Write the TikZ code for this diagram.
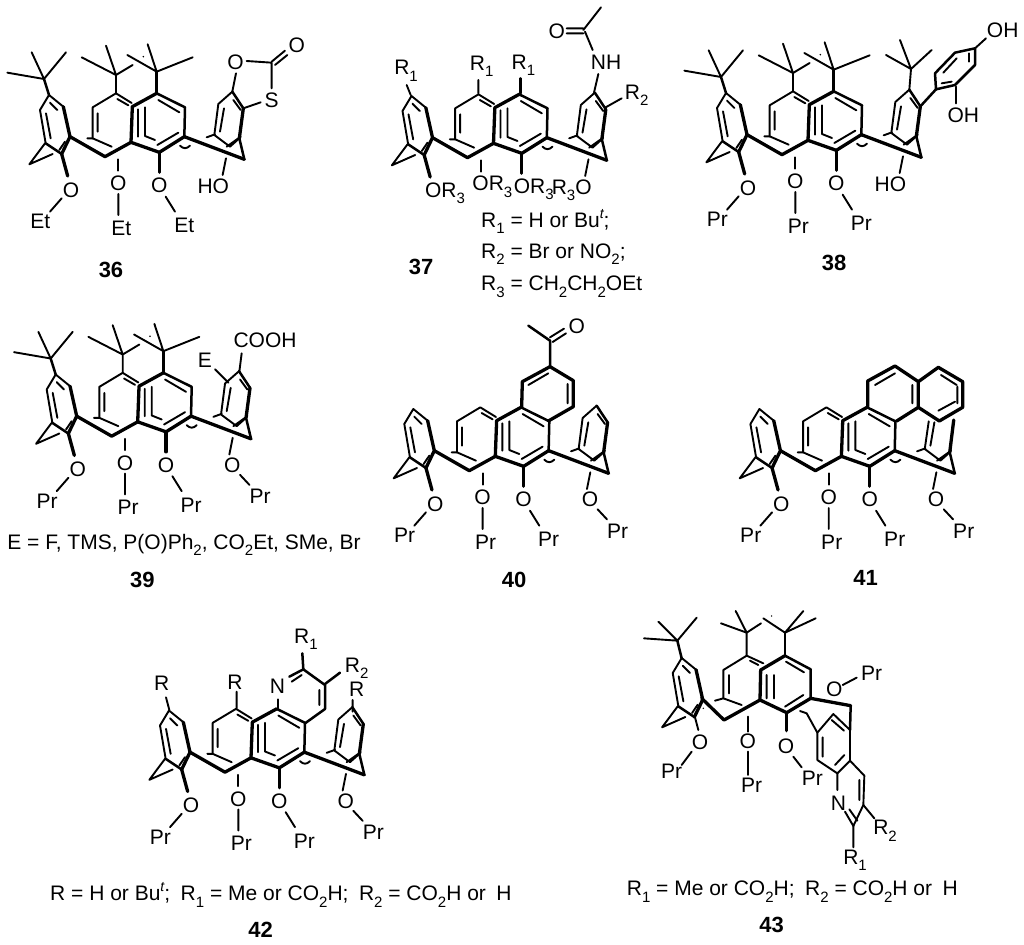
\documentclass[tikz,border=0pt]{standalone}
\usepackage{fontspec}
\setmainfont{Liberation Sans}
\newcommand\sbs[1]{\raisebox{-0.3em}{\fontsize{15}{16}\selectfont #1}}
\newcommand\sps[1]{\raisebox{0.42em}{\fontsize{14}{15}\selectfont\itshape #1}}
\tikzset{
  bnd/.style={line width=1.9pt,line join=round,line cap=round},
  bndm/.style={line width=2.5pt,line join=round,line cap=round},
  bndk/.style={line width=3.3pt,line join=round,line cap=round},
  atom/.style={inner sep=0pt,font=\fontsize{21}{22}\selectfont},
  cid/.style={inner sep=0pt,font=\fontsize{22}{24}\selectfont\bfseries},
  zoomed/.style 2 args={shift={(#1,#2)},x=0.33333pt,y=-0.33333pt}
}
% ---- shared skeleton, in coordinates three times the pixel size ----
\newcommand\RingAcore{%
  \draw[bnd] (190,320)--(147,285)--(120,330)--(137,430);
  \draw[bndm] (137,430)--(185,462);
  \draw[bndk] (190,320)--(210,410)--(185,462);
  \draw[bnd] (150,308)--(172,330) (138,340)--(152,415) (195,425)--(178,450);
  \draw[bnd] (135,430)--(88,493)--(158,462);
}
\newcommand\RingA{\RingAcore
  \draw[bndk] (210,410)--(315,470)--(393,427);
  \draw[bndk] (185,462)--(203,528);
}
\newcommand\RingB{%
  \draw[bnd] (395,309)--(348,280)--(278,322)--(278,415)--(335,440);
  \draw[bnd] (262,415)--(278,415) (293,340)--(293,395) (352,297)--(385,316);
  \draw[bnd] (355,478)--(355,512);
}
\newcommand\RingC{%
  \draw[bndk] (553,410)--(478,457)--(393,427)--(397,320)--(470,280);
  \draw[bndm] (470,280)--(555,322)--(553,410);
  \draw[bnd] (475,300)--(538,337) (472,435)--(535,398) (414,328)--(414,410) (435,322)--(435,408)--(465,420);
  \draw[bnd] (540,437) .. controls (550,447) and (560,447) .. (570,437);
  \draw[bndk] (478,457)--(478,517);
  \draw[bndk] (553,410)--(733,478);
}
\newcommand\RingDbase{%
  \draw[bndm] (718,415)--(733,478);
  \draw[bnd] (643,405)--(690,440)--(718,415) (660,395)--(672,325) (620,412)--(645,403) (722,410)--(680,440);
  \draw[bnd] (678,475)--(668,525);
}
\newcommand\RingD{\RingDbase
  \draw[bndk] (730,325)--(718,415);
  \draw[bndm] (730,325)--(697,275);
  \draw[bnd] (697,275)--(655,312)--(643,405) (700,300)--(722,330);
}
\newcommand\TopA{\draw[bndm] (147,285)--(132,237);
  \draw[bnd] (22,218)--(132,237)--(95,157) (132,237)--(198,157);}
\newcommand\TopB{\draw[bnd] (348,280)--(348,225) (245,172)--(348,225)--(318,137) (348,225)--(398,195);}
\newcommand\TopC{\draw[bndm] (470,280)--(470,215);
  \draw[bnd] (382,165)--(470,215)--(443,133) (470,215)--(578,172);
  \fill (430,170) circle[radius=2.6];}
\newcommand\ORs[1]{%
  \node[atom] (\cid-Oa) at (213,570) {O};
  \node[atom] (\cid-Ob) at (355,550) {O};
  \node[atom] (\cid-Oc) at (478,557) {O};
  \node[atom] (\cid-Ra) at (121,664) {#1};
  \node[atom] (\cid-Rb) at (364,684) {#1};
  \node[atom] (\cid-Rc) at (553,676) {#1};
  \draw[bnd] (185,595)--(150,635) (355,582)--(355,645) (497,590)--(525,635);
}
\newcommand\HOd{\node[atom] (\cid-HO) at (640,560) {HO};}
\newcommand\ORd{%
  \node[atom] (\cid-Od) at (677,556) {O};
  \node[atom] (\cid-Rd) at (760,651) {Pr};
  \draw[bnd] (700,586)--(728,616);
}
\begin{document}
\begin{tikzpicture}[x=1pt,y=-1pt]
\useasboundingbox[fill=white] (0,0) rectangle (1024,944);
% ---------- 36 ----------
\def\cid{m36}
\begin{scope}[zoomed={0}{0}]
\RingA\RingB\RingC\RingD\TopA\TopB\TopC\ORs{Et}\HOd
\draw[bnd] (697,275)--(708,220) (740,183)--(815,188)--(815,265) (782,307)--(730,325);
\draw[bnd] (815,185)--(855,152) (825,195)--(862,165);
\node[atom] (m36-O1) at (707,187) {O};
\node[atom] (m36-O2) at (890,135) {O};
\node[atom] (m36-S) at (815,302) {S};
\node[cid] (m36-id) at (333,810) {36};
\end{scope}
% ---------- 37 ----------
\def\cid{m37}
\begin{scope}[shift={(362.5,1)},x=0.33333pt,y=-0.33333pt]
\RingA\RingB\RingC\RingD
\end{scope}
\begin{scope}[zoomed={370}{0}]
\draw[bnd] (110,255)--(122,285) (325,240)--(325,280);
\draw[bndm] (452,235)--(452,280);
\draw[bnd] (672,278)--(685,222) (668,150)--(645,95) (590,85)--(640,85) (590,100)--(640,100) (640,90)--(693,22) (707,322)--(755,295);
\node[atom] (m37-r1a) at (108,212) {R\sbs{1}};
\node[atom] (m37-r1b) at (335,198) {R\sbs{1}};
\node[atom] (m37-r1c) at (460,195) {R\sbs{1}};
\node[atom] (m37-NH) at (708,188) {NH};
\node[atom] (m37-O) at (560,95) {O};
\node[atom] (m37-r2) at (800,285) {R\sbs{2}};
\node[atom] (m37-ora) at (225,580) {OR\sbs{3}};
\node[atom] (m37-orb) at (367,560) {OR\sbs{3}};
\node[atom] (m37-orc) at (491,567) {OR\sbs{3}};
\node[atom] (m37-ord) at (605,570) {R\sbs{3}O};
\node[atom,anchor=west] (m37-t1) at (333,665) {R\sbs{1} = H or Bu\sps{t};};
\node[atom,anchor=west] (m37-t2) at (333,762) {R\sbs{2} = Br or NO\sbs{2};};
\node[atom,anchor=west] (m37-t3) at (333,860) {R\sbs{3} = CH\sbs{2}CH\sbs{2}OEt};
\node[cid] (m37-id) at (153,800) {37};
\end{scope}
% ---------- 38 ----------
\def\cid{m38}
\begin{scope}[shift={(677,-2)},x=0.33333pt,y=-0.33333pt]
\RingA\RingB\RingC\RingD\TopA\TopB\TopC\ORs{Pr}\HOd
\draw[bnd] (697,275)--(702,213) (627,171)--(702,213)--(669,126) (702,213)--(764,156);
\end{scope}
\begin{scope}[zoomed={680}{0}]
\draw[bndm] (722,318)--(768,268);
\draw[bndm] (768,268)--(825,255)--(885,195)--(885,145)--(825,158)--(765,220)--(768,268);
\draw[bnd] (785,250)--(815,245) (790,218)--(830,175) (867,185)--(867,160);
\draw[bnd] (885,145)--(918,115) (828,260)--(828,310);
\node[atom] (m38-OH1) at (968,90) {OH};
\node[atom] (m38-OH2) at (850,345) {OH};
\node[cid] (m38-id) at (462,790) {38};
\end{scope}
% ---------- 39 ----------
\def\cid{m39}
\begin{scope}[shift={(6.7,279.5)},x=0.33333pt,y=-0.33333pt]
\RingA\RingB\RingC\RingD\TopA\TopB\TopC\ORs{Pr}\ORd
\end{scope}
\begin{scope}[zoomed={0}{310}]
\draw[bnd] (725,130)--(718,185) (645,178)--(685,218);
\node[atom] (m39-cooh) at (795,92) {COOH};
\node[atom] (m39-E) at (615,152) {E};
\node[atom] (m39-t) at (552,705) {E = F, TMS, P(O)Ph\sbs{2}, CO\sbs{2}Et, SMe, Br};
\node[cid] (m39-id) at (427,810) {39};
\end{scope}
% ---------- 40 ----------
\def\cid{m40}
\begin{scope}[shift={(364.3,314)},x=0.33333pt,y=-0.33333pt]
\RingA\RingB\RingC\RingD\ORs{Pr}\ORd
\end{scope}
\begin{scope}[zoomed={370}{310}]
\draw[bndk] (455,290)--(457,215)--(540,170)--(610,212)--(610,290)--(535,333);
\draw[bnd] (475,225)--(535,190) (593,222)--(593,280);
\draw[bndm] (540,170)--(540,92)--(475,47);
\draw[bnd] (540,82)--(582,56) (548,96)--(588,70);
\node[atom] (m40-O) at (620,50) {O};
\node[cid] (m40-id) at (432,810) {40};
\end{scope}
% ---------- 41 ----------
\def\cid{m41}
\begin{scope}[shift={(710.4,314)},x=0.33333pt,y=-0.33333pt]
\RingA\RingB\RingC\RingDbase\ORs{Pr}\ORd
\draw[bndk] (730,318)--(718,415);
\draw[bnd] (655,322)--(643,405);
\end{scope}
\begin{scope}[zoomed={680}{320}]
\draw[bndk] (563,260)--(563,183)--(645,138)--(715,185)--(715,262)--(650,303);
\draw[bndk] (715,185)--(775,142)--(848,185)--(848,262)--(778,303)--(715,262);
\draw[bnd] (585,195)--(645,160) (697,195)--(697,250) (783,165)--(830,195) (832,200)--(832,250) (775,272)--(825,245);
\node[cid] (m41-id) at (557,775) {41};
\end{scope}
% ---------- 42 ----------
\def\cid{m42}
\begin{scope}[shift={(120,615.5)},x=0.33333pt,y=-0.33333pt]
\RingA\RingB\RingC\RingD\ORs{Pr}\ORd
\end{scope}
\begin{scope}[zoomed={30}{610}]
\draw[bnd] (408,262)--(418,300) (620,245)--(620,295) (968,270)--(968,305);
\draw[bnd] (745,268)--(745,295);
\draw[bndm] (825,340)--(885,297)--(885,225)--(820,178)--(778,200);
\draw[bnd] (868,285)--(868,240) (815,195)--(785,215);
\draw[bndm] (820,178)--(817,130) (885,222)--(930,188);
\node[atom] (m42-Ra) at (395,220) {R};
\node[atom] (m42-Rb) at (615,217) {R};
\node[atom] (m42-Rd) at (980,238) {R};
\node[atom] (m42-N) at (742,228) {N};
\node[atom] (m42-r1) at (828,87) {R\sbs{1}};
\node[atom] (m42-r2) at (980,174) {R\sbs{2}};
\node[atom,anchor=west] (m42-t) at (60,855) {R = H or Bu\sps{t};\enspace R\sbs{1} = Me or CO\sbs{2}H;\enspace R\sbs{2} = CO\sbs{2}H or\enspace H};
\node[cid] (m42-id) at (692,960) {42};
\end{scope}
% ---------- 43 ----------
\def\cid{m43}
\begin{scope}[shift={(632.7,563)},x=0.33333pt,y=-0.33333pt]
\RingAcore
\end{scope}
\begin{scope}[zoomed={600}{610}]
\draw[bndm] (245,145)--(232,92);
\draw[bnd] (132,85)--(232,92)--(175,35) (232,92)--(290,23);
\draw[bndk] (305,265)--(372,330)--(480,270);
\draw[bnd] (285,322)--(295,360) (275,425)--(245,465);
\fill (310,295) circle[radius=2.4];
% ring B
\draw[bnd] (490,160)--(440,137)--(370,180)--(370,265)--(425,285);
\draw[bnd] (345,272)--(370,265) (387,195)--(387,250) (450,152)--(475,165);
\draw[bnd] (440,137)--(440,68) (363,40)--(440,68)--(407,3) (440,68)--(483,40);
\draw[bnd] (445,320)--(445,365) (443,425)--(443,495);
% ring C
\draw[bndk] (632,265)--(560,308)--(480,270)--(482,180)--(555,137);
\draw[bndm] (555,137)--(632,178)--(632,265);
\draw[bnd] (558,155)--(612,187) (555,290)--(610,255) (500,195)--(500,265) (522,195)--(522,265);
\draw[bndm] (555,137)--(555,68);
\draw[bnd] (490,25)--(555,68)--(610,3) (555,68)--(647,25);
\fill (515,18) circle[radius=2.4];
\draw[bndk] (560,308)--(560,362);
\draw[bnd] (580,440)--(605,472);
% right bridge and O
\draw[bndk] (632,265)--(752,287);
\draw[bnd] (728,225)--(770,203);
\draw[bndm] (752,287)--(750,360);
% quinoline
\draw[bnd] (600,303)--(620,310)--(652,368);
\draw[bnd] (750,360)--(700,312)--(652,368)--(652,450)--(712,490)--(750,452)--(750,360);
\draw[bnd] (695,330)--(732,362) (668,382)--(668,440) (705,465)--(733,435);
\draw[bnd] (750,452)--(793,497)--(790,585)--(760,648)--(735,605);
\draw[bnd] (778,510)--(778,570) (748,598)--(772,632);
\draw[bnd] (712,490)--(712,540) (790,585)--(823,625) (760,648)--(760,712);
\node[atom] (m43-Oa) at (300,397) {O};
\node[atom] (m43-Ob) at (443,393) {O};
\node[atom] (m43-Oc) at (558,408) {O};
\node[atom] (m43-Od) at (703,238) {O};
\node[atom] (m43-Ra) at (215,483) {Pr};
\node[atom] (m43-Rb) at (455,525) {Pr};
\node[atom] (m43-Rc) at (637,505) {Pr};
\node[atom] (m43-Rd) at (815,190) {Pr};
\node[atom] (m43-N) at (715,580) {N};
\node[atom] (m43-r2) at (855,662) {R\sbs{2}};
\node[atom] (m43-r1) at (765,750) {R\sbs{1}};
\node[atom,anchor=west] (m43-t) at (80,845) {R\sbs{1} = Me or CO\sbs{2}H;\enspace R\sbs{2} = CO\sbs{2}H or\enspace H};
\node[cid] (m43-id) at (515,945) {43};
\end{scope}
\end{tikzpicture}
\end{document}
